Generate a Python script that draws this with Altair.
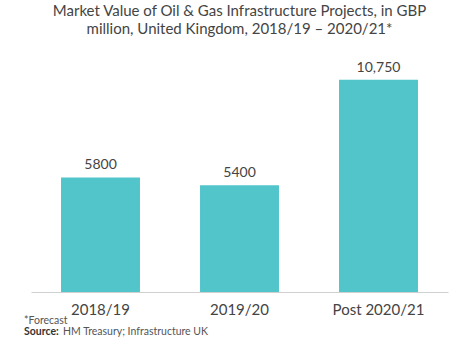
import altair as alt
import pandas as pd

categories = ["2018/19", "2019/20", "Post 2020/21"]
values = [5800, 5400, 10750]
labels = ["5800", "5400", "10,750"]

df = pd.DataFrame({"cat": categories, "val": values, "lab": labels})

FONT = "Lato"
x = alt.X("cat:N", sort=categories, title=None,
          scale=alt.Scale(paddingInner=0.432, paddingOuter=0.216),
          axis=alt.Axis(labelAngle=0, labelFontSize=15, labelColor="#444444",
                        labelFont=FONT, labelPadding=10, ticks=False,
                        domainColor="#d0d0d0", domainWidth=1))
y = alt.Y("val:Q", scale=alt.Scale(domain=[0, 12000]), axis=None)

base = alt.Chart(df)
bars = base.mark_bar(color="#52C5CB").encode(x=x, y=y)
text = base.mark_text(dy=-12, fontSize=14, font=FONT, color="#444444").encode(
    x=x, y=y, text="lab:N")

foot1 = alt.Chart(pd.DataFrame({"t": ["*Forecast"]})).mark_text(
    align="left", baseline="middle", fontSize=10.5, font=FONT, color="#555555"
).encode(x=alt.value(-7), y=alt.value(266), text="t:N")
foot2a = alt.Chart(pd.DataFrame({"t": ["Source:"]})).mark_text(
    align="left", baseline="middle", fontSize=10.5, font=FONT, fontWeight="bold", color="#333333"
).encode(x=alt.value(-7), y=alt.value(277), text="t:N")
foot2b = alt.Chart(pd.DataFrame({"t": ["HM Treasury; Infrastructure UK"]})).mark_text(
    align="left", baseline="middle", fontSize=10.5, font=FONT, color="#555555"
).encode(x=alt.value(32), y=alt.value(277), text="t:N")

chart = alt.layer(bars, text, foot1, foot2a, foot2b).properties(
    width=417, height=237,
    padding={"left": 31, "top": 55, "right": 26, "bottom": 53},
    autosize=alt.AutoSizeParams(type="none"),
    title=alt.TitleParams(
        ["Market Value of Oil & Gas Infrastructure Projects, in GBP",
         "million, United Kingdom, 2018/19 \u2013 2020/21*"],
        anchor="middle", fontSize=15, font=FONT, fontWeight="normal",
        color="#444444", lineHeight=18, offset=18),
).configure(background="white").configure_view(stroke="transparent", strokeWidth=0)

chart.save("out.html", embed_options={"renderer": "svg", "actions": False})
